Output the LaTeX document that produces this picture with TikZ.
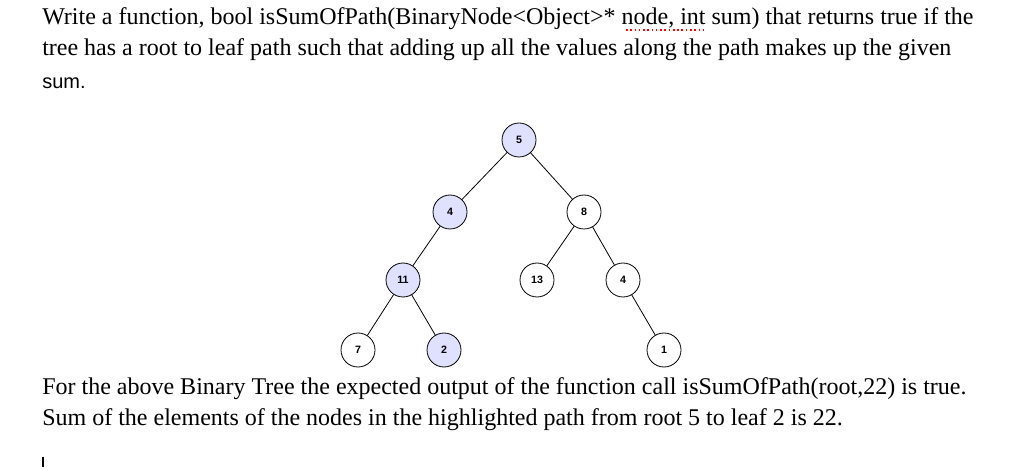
\documentclass[tikz,border=0pt]{standalone}
\usepackage{fontspec}
\setmainfont{Liberation Serif}
\newfontfamily\nodefont{Liberation Sans}
\begin{document}
\begin{tikzpicture}[x=0.75pt,y=-0.75pt,
  tn/.style={circle,draw,line width=0.6pt,minimum size=25.5pt,inner sep=0pt,font=\nodefont\bfseries\fontsize{8}{9}\selectfont},
  hl/.style={tn,fill=blue!12},
  txt/.style={anchor=base west,inner sep=0pt,font=\fontsize{18}{21}\selectfont},
  edge/.style={line width=0.6pt}]
\useasboundingbox (0,0) rectangle (1032,470);
\node[txt] (l1) at (42,25) {Write a function, bool isSumOfPath(BinaryNode<Object>* node, int sum) that returns true if the};
\node[txt] (l2) at (42,56) {tree has a root to leaf path such that adding up all the values along the path makes up the given};
\node[txt,font=\nodefont\fontsize{15}{18}\selectfont] (l3) at (42,89) {sum.};
\node[txt] (l4) at (42,394) {For the above Binary Tree the expected output of the function call isSumOfPath(root,22) is true.};
\node[txt] (l5) at (42,425) {Sum of the elements of the nodes in the highlighted path from root 5 to leaf 2 is 22.};
\draw[red,dotted,line width=1.2pt] (626,30) -- (705,30);
\draw[line width=0.8pt] (43,457) -- (43,467);
\node[hl] (n5) at (519,140) {5};
\node[hl] (n4) at (450,212) {4};
\node[tn] (n8) at (584,212) {8};
\node[hl] (n11) at (403,280) {11};
\node[tn] (n13) at (537,280) {13};
\node[tn] (n4b) at (623,280) {4};
\node[tn] (n7) at (358,350) {7};
\node[hl] (n2) at (444,350) {2};
\node[tn] (n1) at (664,350) {1};
\draw[edge] (n5)--(n4) (n5)--(n8) (n4)--(n11) (n8)--(n13) (n8)--(n4b)
  (n11)--(n7) (n11)--(n2) (n4b)--(n1);
\end{tikzpicture}
\end{document}
